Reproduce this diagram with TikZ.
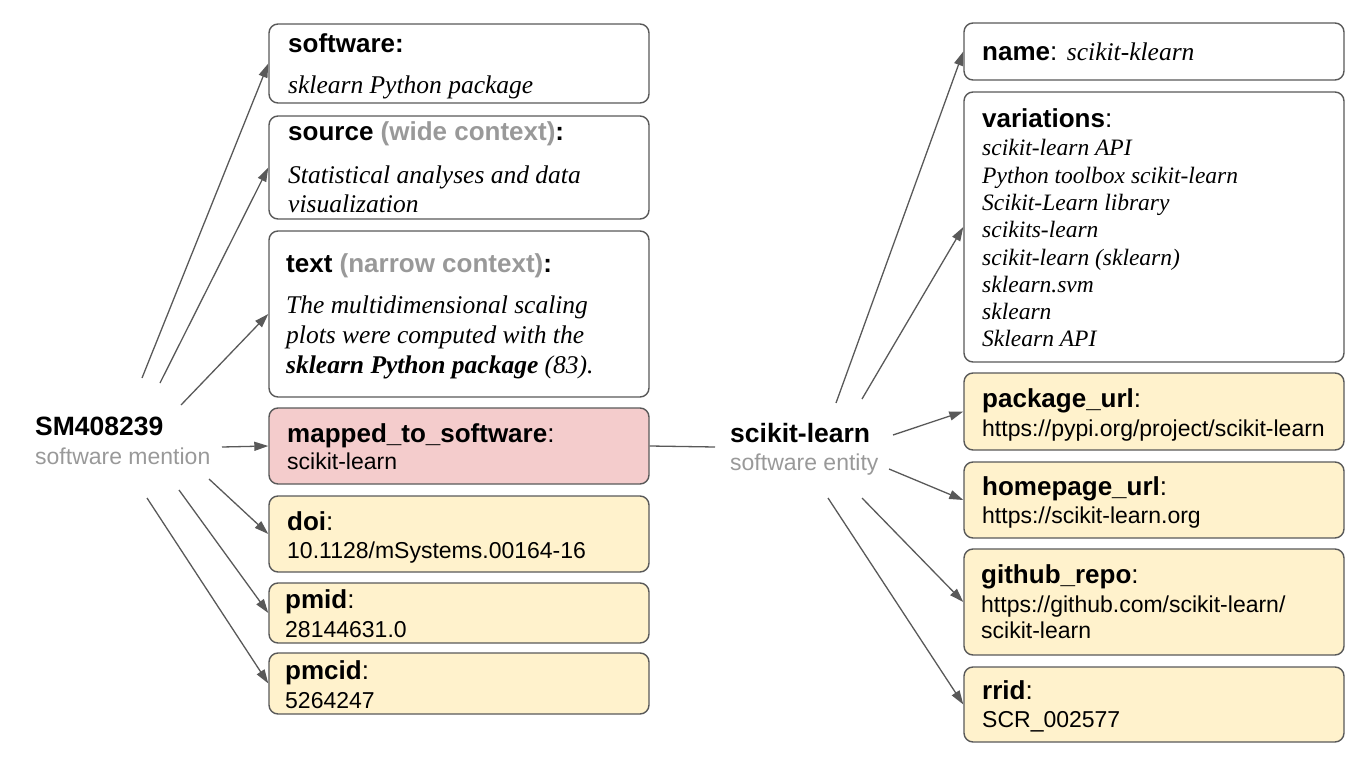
\documentclass[tikz,border=0pt]{standalone}
\usepackage{fontspec}
\setmainfont{Liberation Sans}
\newfontfamily\serifit{Liberation Serif}
\usetikzlibrary{arrows.meta}
\definecolor{edge}{HTML}{595959}
\definecolor{pinkfill}{HTML}{F4CCCC}
\definecolor{yellowfill}{HTML}{FFF2CC}
\definecolor{greytext}{HTML}{999999}
\newcommand\labfnt{\fontsize{26}{30}\selectfont}
\newcommand\valfnt{\fontsize{23}{27}\selectfont}
\newcommand\itfnt{\fontsize{25.5}{30}\selectfont\serifit\itshape}
\newcommand\vitfnt{\fontsize{23.5}{27}\selectfont\serifit\itshape}
\begin{document}
\begin{tikzpicture}[x=1pt,y=-1pt,
  box/.style={draw=edge, line width=1.4pt, rounded corners=9pt, minimum width=380pt, inner sep=0pt, fill=white},
  pinkbox/.style={box, fill=pinkfill},
  yelbox/.style={box, fill=yellowfill},
  lab/.style={anchor=base west, inner sep=0pt, font=\labfnt\bfseries},
  val/.style={anchor=base west, inner sep=0pt, font=\valfnt},
  itx/.style={anchor=base west, inner sep=0pt, font=\itfnt},
  vit/.style={anchor=base west, inner sep=0pt, font=\vitfnt},
  ent/.style={anchor=base west, inner sep=0pt, font=\fontsize{26.5}{30}\selectfont\bfseries},
  sub/.style={anchor=base west, inner sep=0pt, font=\valfnt, text=greytext},
  arr/.style={draw=edge, line width=1.3pt, -{Triangle[length=14pt,width=9pt]}},
  conn/.style={draw=edge, line width=1.3pt}]
\useasboundingbox (0,0) rectangle (1358,757);

% left boxes
\node[box, minimum height=79pt] (swbox) at (459,63.5) {};
\node[box, minimum height=103pt] (srcbox) at (459,167.5) {};
\node[box, minimum height=166pt] (txtbox) at (459,314) {};
\node[pinkbox, minimum height=76pt] (mapbox) at (459,446) {};
\node[yelbox, minimum height=76pt] (doibox) at (459,534) {};
\node[yelbox, minimum height=60pt] (pmidbox) at (459,613) {};
\node[yelbox, minimum height=61pt] (pmcidbox) at (459,683.5) {};

% right boxes
\node[box, minimum height=57pt] (namebox) at (1154,51.5) {};
\node[box, minimum height=270pt] (varbox) at (1154,227) {};
\node[yelbox, minimum height=77pt] (pkgbox) at (1154,411.5) {};
\node[yelbox, minimum height=76pt] (homebox) at (1154,500) {};
\node[yelbox, minimum height=106pt] (ghbox) at (1154,602) {};
\node[yelbox, minimum height=75pt] (rridbox) at (1154,704.5) {};

% left texts
\node[lab] (swl) at (288,53) {software:};
\node[itx] (swv) at (288,94) {sklearn Python package};
\node[lab] (srcl) at (288,141) {source {\color{greytext}(wide context)}:};
\node[itx] (srcv1) at (288,183) {Statistical analyses and data};
\node[itx] (srcv2) at (288,212) {visualization};
\node[lab] (txtl) at (286,272) {text {\color{greytext}(narrow context)}:};
\node[itx] (txtv1) at (286,313) {The multidimensional scaling};
\node[itx] (txtv2) at (286,343) {plots were computed with the};
\node[itx] (txtv3) at (286,373) {{\bfseries sklearn Python package} (83).};
\node[lab] (mapl) at (287,442) {mapped\_to\_software{\mdseries:}};
\node[val] (mapv) at (287,469) {scikit-learn};
\node[lab] (doil) at (287,530) {doi{\mdseries:}};
\node[val] (doiv) at (287,558) {10.1128/mSystems.00164-16};
\node[lab] (pmidl) at (285,608) {pmid{\mdseries:}};
\node[val] (pmidv) at (285,637) {28144631.0};
\node[lab] (pmcidl) at (285,679) {pmcid{\mdseries:}};
\node[val] (pmcidv) at (285,708) {5264247};

% right texts
\node[lab] (namel) at (982,61) {name{\mdseries: \itfnt scikit-klearn}};
\node[lab] (varl) at (982,128) {variations{\mdseries:}};
\node[vit] (v1) at (982,156) {scikit-learn API};
\node[vit] (v2) at (982,183) {Python toolbox scikit-learn};
\node[vit] (v3) at (982,210) {Scikit-Learn library};
\node[vit] (v4) at (982,237) {scikits-learn};
\node[vit] (v5) at (982,265) {scikit-learn (sklearn)};
\node[vit] (v6) at (982,292) {sklearn.svm};
\node[vit] (v7) at (982,319) {sklearn};
\node[vit] (v8) at (982,346) {Sklearn API};
\node[lab] (pkgl) at (982,407) {package\_url{\mdseries:}};
\node[val] (pkgv) at (982,436) {https://pypi.org/project/scikit-learn};
\node[lab] (homel) at (982,495) {homepage\_url{\mdseries:}};
\node[val] (homev) at (982,523) {https://scikit-learn.org};
\node[lab] (ghl) at (981,583) {github\_repo{\mdseries:}};
\node[val] (ghv1) at (981,612) {https://github.com/scikit-learn/};
\node[val] (ghv2) at (981,638) {scikit-learn};
\node[lab] (rridl) at (982,699) {rrid{\mdseries:}};
\node[val] (rridv) at (982,727) {SCR\_002577};

% entity labels
\node[ent] (sm) at (35,435) {SM408239};
\node[sub] (smsub) at (35,464) {software mention};
\node[ent] (sk) at (730,442) {scikit-learn};
\node[sub] (sksub) at (730,470) {software entity};

% free ends
\coordinate (s1) at (142,378);
\coordinate (s2) at (160,383);
\coordinate (s3) at (181,405);
\coordinate (s4) at (222,447);
\coordinate (s5) at (209,479);
\coordinate (s6) at (179,490);
\coordinate (s7) at (147,498);
\coordinate (e1) at (836,403);
\coordinate (e2) at (862,399);
\coordinate (e3) at (893,435);
\coordinate (e4) at (889,469);
\coordinate (e5) at (862,498);
\coordinate (e6) at (828,498);
\coordinate (m1) at (715,447);

\draw[arr] (s1) -- (swbox.west);
\draw[arr] (s2) -- (srcbox.west);
\draw[arr] (s3) -- (txtbox.west);
\draw[arr] (s4) -- (mapbox.west);
\draw[arr] (s5) -- (doibox.west);
\draw[arr] (s6) -- (pmidbox.west);
\draw[arr] (s7) -- (pmcidbox.west);
\draw[conn] (mapbox.east) -- (m1);
\draw[arr] (e1) -- (namebox.west);
\draw[arr] (e2) -- (varbox.west);
\draw[arr] (e3) -- (pkgbox.west);
\draw[arr] (e4) -- (homebox.west);
\draw[arr] (e5) -- (ghbox.west);
\draw[arr] (e6) -- (rridbox.west);
\end{tikzpicture}
\end{document}
